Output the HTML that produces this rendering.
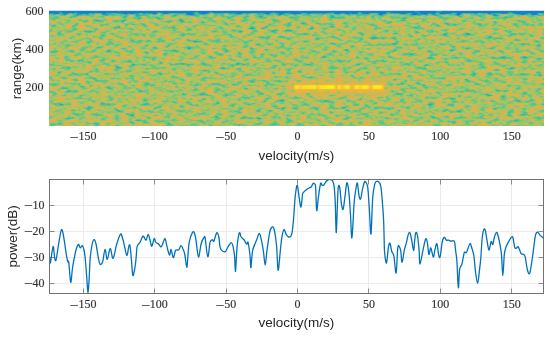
<!DOCTYPE html>
<html><head><meta charset="utf-8"><style>
html,body{margin:0;padding:0;background:#fff;width:550px;height:338px;overflow:hidden}
svg{display:block}
.s{font-family:'Liberation Serif',serif;font-size:12px;fill:#333;stroke:#333;stroke-width:0.15px}
.a{font-family:'Liberation Sans',sans-serif;font-size:13.5px;fill:#262626}
.mn{font-family:'DejaVu Serif',serif;stroke:none;fill:#555}
</style></head><body>
<svg width="550" height="338" viewBox="0 0 550 338">
<defs>
<filter id="hm" x="0" y="0" width="100%" height="100%" filterUnits="objectBoundingBox" color-interpolation-filters="sRGB">
<feTurbulence type="fractalNoise" baseFrequency="0.14 0.3" numOctaves="2" seed="7" result="n"/>
<feColorMatrix in="n" type="matrix" values="1 0 0 0 0 1 0 0 0 0 1 0 0 0 0 0 0 0 0 1" result="g"/>
<feComposite in="g" in2="SourceGraphic" operator="arithmetic" k1="0" k2="1" k3="1.5" k4="-0.75" result="c"/>
<feComponentTransfer in="c">
<feFuncR type="table" tableValues="0.092 0.098 0.110 0.136 0.162 0.190 0.224 0.257 0.290 0.324 0.357 0.390 0.424 0.475 0.532 0.590 0.646 0.703 0.757 0.788 0.819 0.848 0.855 0.862 0.869 0.876 0.884 0.894 0.903 0.913 0.923 0.943 0.968"/>
<feFuncG type="table" tableValues="0.494 0.526 0.561 0.600 0.639 0.673 0.696 0.719 0.742 0.757 0.766 0.774 0.782 0.782 0.780 0.777 0.768 0.756 0.744 0.731 0.718 0.706 0.702 0.699 0.695 0.692 0.692 0.695 0.698 0.702 0.705 0.746 0.805"/>
<feFuncB type="table" tableValues="0.820 0.808 0.787 0.746 0.704 0.666 0.637 0.608 0.578 0.556 0.539 0.523 0.506 0.480 0.451 0.423 0.396 0.369 0.344 0.336 0.329 0.321 0.316 0.311 0.305 0.300 0.291 0.280 0.269 0.258 0.247 0.211 0.165"/>
<feFuncA type="linear" slope="0" intercept="1"/>
</feComponentTransfer>
</filter>
<linearGradient id="halo" x1="0" y1="0" x2="0" y2="1">
<stop offset="0" stop-color="#808080"/><stop offset="0.3" stop-color="#999999"/><stop offset="0.7" stop-color="#999999"/><stop offset="1" stop-color="#808080"/>
</linearGradient>
<linearGradient id="haloh" x1="0" y1="0" x2="1" y2="0">
<stop offset="0" stop-color="#000"/><stop offset="0.07" stop-color="#fff"/><stop offset="0.93" stop-color="#fff"/><stop offset="1" stop-color="#000"/>
</linearGradient>
<mask id="halom" maskUnits="userSpaceOnUse" x="0" y="0" width="550" height="200"><rect x="286" y="74" width="106" height="26" fill="url(#haloh)"/></mask>
<linearGradient id="topg" gradientUnits="userSpaceOnUse" x1="0" y1="11" x2="0" y2="18.5">
<stop offset="0" stop-color="#080808"/>
<stop offset="0.18" stop-color="#141414"/>
<stop offset="0.27" stop-color="#333333"/>
<stop offset="0.42" stop-color="#4c4c4c"/>
<stop offset="0.55" stop-color="#666666"/>
<stop offset="0.78" stop-color="#787878"/>
<stop offset="1" stop-color="#808080"/>
</linearGradient>
<linearGradient id="lineh" gradientUnits="userSpaceOnUse" x1="294.0" y1="0" x2="385.0" y2="0">
<stop offset="0.0000" stop-color="#f2b440" stop-opacity="0.98"/>
<stop offset="0.0000" stop-color="#f3b73e" stop-opacity="1.00"/>
<stop offset="0.0000" stop-color="#f5be39" stop-opacity="1.00"/>
<stop offset="0.0143" stop-color="#fad728" stop-opacity="1.00"/>
<stop offset="0.0363" stop-color="#fae81b" stop-opacity="1.00"/>
<stop offset="0.0571" stop-color="#f9d42a" stop-opacity="1.00"/>
<stop offset="0.0769" stop-color="#f8c833" stop-opacity="1.00"/>
<stop offset="0.0934" stop-color="#fad926" stop-opacity="1.00"/>
<stop offset="0.1044" stop-color="#fadd24" stop-opacity="1.00"/>
<stop offset="0.1352" stop-color="#fae120" stop-opacity="1.00"/>
<stop offset="0.1648" stop-color="#fae41e" stop-opacity="1.00"/>
<stop offset="0.1890" stop-color="#fae51d" stop-opacity="1.00"/>
<stop offset="0.2077" stop-color="#fbeb19" stop-opacity="1.00"/>
<stop offset="0.2231" stop-color="#fbeb19" stop-opacity="1.00"/>
<stop offset="0.2374" stop-color="#fae51d" stop-opacity="1.00"/>
<stop offset="0.2495" stop-color="#f7c435" stop-opacity="1.00"/>
<stop offset="0.2670" stop-color="#f9d42a" stop-opacity="1.00"/>
<stop offset="0.2912" stop-color="#fbeb19" stop-opacity="1.00"/>
<stop offset="0.3099" stop-color="#fae81b" stop-opacity="1.00"/>
<stop offset="0.3275" stop-color="#fbe91b" stop-opacity="1.00"/>
<stop offset="0.3516" stop-color="#fbee17" stop-opacity="1.00"/>
<stop offset="0.3758" stop-color="#fbf115" stop-opacity="1.00"/>
<stop offset="0.4000" stop-color="#fbf214" stop-opacity="1.00"/>
<stop offset="0.4242" stop-color="#fbef16" stop-opacity="1.00"/>
<stop offset="0.4418" stop-color="#fae51d" stop-opacity="1.00"/>
<stop offset="0.4538" stop-color="#f9cb30" stop-opacity="1.00"/>
<stop offset="0.4637" stop-color="#f2b440" stop-opacity="0.96"/>
<stop offset="0.4736" stop-color="#f6c137" stop-opacity="1.00"/>
<stop offset="0.4857" stop-color="#fae41e" stop-opacity="1.00"/>
<stop offset="0.5033" stop-color="#fae41e" stop-opacity="1.00"/>
<stop offset="0.5220" stop-color="#f8ca31" stop-opacity="1.00"/>
<stop offset="0.5396" stop-color="#f7c534" stop-opacity="1.00"/>
<stop offset="0.5582" stop-color="#f9d42a" stop-opacity="1.00"/>
<stop offset="0.5758" stop-color="#fbe91b" stop-opacity="1.00"/>
<stop offset="0.5879" stop-color="#fbeb19" stop-opacity="1.00"/>
<stop offset="0.6055" stop-color="#fad926" stop-opacity="1.00"/>
<stop offset="0.6209" stop-color="#f5bf38" stop-opacity="1.00"/>
<stop offset="0.6363" stop-color="#f2b440" stop-opacity="0.75"/>
<stop offset="0.6604" stop-color="#f9cb30" stop-opacity="1.00"/>
<stop offset="0.6780" stop-color="#fae021" stop-opacity="1.00"/>
<stop offset="0.6967" stop-color="#fbec19" stop-opacity="1.00"/>
<stop offset="0.7143" stop-color="#fad728" stop-opacity="1.00"/>
<stop offset="0.7319" stop-color="#f9d22c" stop-opacity="1.00"/>
<stop offset="0.7505" stop-color="#fae021" stop-opacity="1.00"/>
<stop offset="0.7747" stop-color="#fbee17" stop-opacity="1.00"/>
<stop offset="0.7923" stop-color="#fbed18" stop-opacity="1.00"/>
<stop offset="0.8110" stop-color="#fae41e" stop-opacity="1.00"/>
<stop offset="0.8297" stop-color="#f6c236" stop-opacity="1.00"/>
<stop offset="0.8462" stop-color="#f2b440" stop-opacity="0.90"/>
<stop offset="0.8648" stop-color="#f9d42a" stop-opacity="1.00"/>
<stop offset="0.8890" stop-color="#fbeb19" stop-opacity="1.00"/>
<stop offset="0.9132" stop-color="#fbef16" stop-opacity="1.00"/>
<stop offset="0.9374" stop-color="#fbed18" stop-opacity="1.00"/>
<stop offset="0.9549" stop-color="#fae51d" stop-opacity="1.00"/>
<stop offset="0.9725" stop-color="#f9cb30" stop-opacity="1.00"/>
<stop offset="0.9846" stop-color="#f4ba3c" stop-opacity="1.00"/>
<stop offset="0.9901" stop-color="#f2b440" stop-opacity="0.78"/>
<stop offset="0.9956" stop-color="#f2b440" stop-opacity="0.19"/>
<stop offset="1.0000" stop-color="#f2b440" stop-opacity="0.00"/>
</linearGradient>
<linearGradient id="linev" gradientUnits="userSpaceOnUse" x1="0" y1="84.4" x2="0" y2="89.8">
<stop offset="0" stop-color="#000000"/>
<stop offset="0.28" stop-color="#ffffff"/>
<stop offset="0.72" stop-color="#ffffff"/>
<stop offset="1" stop-color="#000000"/>
</linearGradient>
<linearGradient id="lineg" gradientUnits="userSpaceOnUse" x1="294.0" y1="0" x2="385.0" y2="0">
<stop offset="0.0000" stop-color="#f4b43a" stop-opacity="0.98"/>
<stop offset="0.0000" stop-color="#f4b43a" stop-opacity="1.00"/>
<stop offset="0.0000" stop-color="#f4b43a" stop-opacity="1.00"/>
<stop offset="0.0143" stop-color="#f4b43a" stop-opacity="1.00"/>
<stop offset="0.0363" stop-color="#f4b43a" stop-opacity="1.00"/>
<stop offset="0.0571" stop-color="#f4b43a" stop-opacity="1.00"/>
<stop offset="0.0769" stop-color="#f4b43a" stop-opacity="1.00"/>
<stop offset="0.0934" stop-color="#f4b43a" stop-opacity="1.00"/>
<stop offset="0.1044" stop-color="#f4b43a" stop-opacity="1.00"/>
<stop offset="0.1352" stop-color="#f4b43a" stop-opacity="1.00"/>
<stop offset="0.1648" stop-color="#f4b43a" stop-opacity="1.00"/>
<stop offset="0.1890" stop-color="#f4b43a" stop-opacity="1.00"/>
<stop offset="0.2077" stop-color="#f4b43a" stop-opacity="1.00"/>
<stop offset="0.2231" stop-color="#f4b43a" stop-opacity="1.00"/>
<stop offset="0.2374" stop-color="#f4b43a" stop-opacity="1.00"/>
<stop offset="0.2495" stop-color="#f4b43a" stop-opacity="1.00"/>
<stop offset="0.2670" stop-color="#f4b43a" stop-opacity="1.00"/>
<stop offset="0.2912" stop-color="#f4b43a" stop-opacity="1.00"/>
<stop offset="0.3099" stop-color="#f4b43a" stop-opacity="1.00"/>
<stop offset="0.3275" stop-color="#f4b43a" stop-opacity="1.00"/>
<stop offset="0.3516" stop-color="#f4b43a" stop-opacity="1.00"/>
<stop offset="0.3758" stop-color="#f4b43a" stop-opacity="1.00"/>
<stop offset="0.4000" stop-color="#f4b43a" stop-opacity="1.00"/>
<stop offset="0.4242" stop-color="#f4b43a" stop-opacity="1.00"/>
<stop offset="0.4418" stop-color="#f4b43a" stop-opacity="1.00"/>
<stop offset="0.4538" stop-color="#f4b43a" stop-opacity="1.00"/>
<stop offset="0.4637" stop-color="#f4b43a" stop-opacity="0.96"/>
<stop offset="0.4736" stop-color="#f4b43a" stop-opacity="1.00"/>
<stop offset="0.4857" stop-color="#f4b43a" stop-opacity="1.00"/>
<stop offset="0.5033" stop-color="#f4b43a" stop-opacity="1.00"/>
<stop offset="0.5220" stop-color="#f4b43a" stop-opacity="1.00"/>
<stop offset="0.5396" stop-color="#f4b43a" stop-opacity="1.00"/>
<stop offset="0.5582" stop-color="#f4b43a" stop-opacity="1.00"/>
<stop offset="0.5758" stop-color="#f4b43a" stop-opacity="1.00"/>
<stop offset="0.5879" stop-color="#f4b43a" stop-opacity="1.00"/>
<stop offset="0.6055" stop-color="#f4b43a" stop-opacity="1.00"/>
<stop offset="0.6209" stop-color="#f4b43a" stop-opacity="1.00"/>
<stop offset="0.6363" stop-color="#f4b43a" stop-opacity="0.75"/>
<stop offset="0.6604" stop-color="#f4b43a" stop-opacity="1.00"/>
<stop offset="0.6780" stop-color="#f4b43a" stop-opacity="1.00"/>
<stop offset="0.6967" stop-color="#f4b43a" stop-opacity="1.00"/>
<stop offset="0.7143" stop-color="#f4b43a" stop-opacity="1.00"/>
<stop offset="0.7319" stop-color="#f4b43a" stop-opacity="1.00"/>
<stop offset="0.7505" stop-color="#f4b43a" stop-opacity="1.00"/>
<stop offset="0.7747" stop-color="#f4b43a" stop-opacity="1.00"/>
<stop offset="0.7923" stop-color="#f4b43a" stop-opacity="1.00"/>
<stop offset="0.8110" stop-color="#f4b43a" stop-opacity="1.00"/>
<stop offset="0.8297" stop-color="#f4b43a" stop-opacity="1.00"/>
<stop offset="0.8462" stop-color="#f4b43a" stop-opacity="0.90"/>
<stop offset="0.8648" stop-color="#f4b43a" stop-opacity="1.00"/>
<stop offset="0.8890" stop-color="#f4b43a" stop-opacity="1.00"/>
<stop offset="0.9132" stop-color="#f4b43a" stop-opacity="1.00"/>
<stop offset="0.9374" stop-color="#f4b43a" stop-opacity="1.00"/>
<stop offset="0.9549" stop-color="#f4b43a" stop-opacity="1.00"/>
<stop offset="0.9725" stop-color="#f4b43a" stop-opacity="1.00"/>
<stop offset="0.9846" stop-color="#f4b43a" stop-opacity="1.00"/>
<stop offset="0.9901" stop-color="#f4b43a" stop-opacity="0.78"/>
<stop offset="0.9956" stop-color="#f4b43a" stop-opacity="0.19"/>
<stop offset="1.0000" stop-color="#f4b43a" stop-opacity="0.00"/>
</linearGradient>
<linearGradient id="linegv" gradientUnits="userSpaceOnUse" x1="0" y1="82" x2="0" y2="93">
<stop offset="0" stop-color="#000000"/>
<stop offset="0.25" stop-color="#bfbfbf"/>
<stop offset="0.5" stop-color="#e6e6e6"/>
<stop offset="0.75" stop-color="#bfbfbf"/>
<stop offset="1" stop-color="#000000"/>
</linearGradient>
<mask id="lmg" maskUnits="userSpaceOnUse" x="0" y="0" width="550" height="200"><rect x="294.0" y="82" width="91.0" height="11" fill="url(#linegv)"/></mask>
<mask id="lm" maskUnits="userSpaceOnUse" x="0" y="0" width="550" height="200"><rect x="294.0" y="84.4" width="91.0" height="5.3999999999999915" fill="url(#linev)"/></mask>
<clipPath id="ax2"><rect x="49.5" y="179.5" width="494.0" height="114.0"/></clipPath>
</defs>
<g filter="url(#hm)">
<rect x="49" y="11" width="495" height="115" fill="#808080"/>
<rect x="49" y="11" width="495" height="7.5" fill="url(#topg)"/>
<rect x="286" y="74" width="106" height="26" fill="url(#halo)" mask="url(#halom)"/>
</g>
<rect x="49" y="10" width="495" height="1" fill="#1a78d4" opacity="0.25"/>
<rect x="294.0" y="82" width="91.0" height="11" fill="url(#lineg)" mask="url(#lmg)"/>
<rect x="294.0" y="84.4" width="91.0" height="5.3999999999999915" fill="url(#lineh)" mask="url(#lm)"/>

<text class="s" x="43.6" y="14.8" text-anchor="end">600</text>
<text class="s" x="43.6" y="52.8" text-anchor="end">400</text>
<text class="s" x="43.6" y="90.9" text-anchor="end">200</text>
<text class="s" x="82.7" y="140.4" text-anchor="middle"><tspan class="mn" dy="0.7">−</tspan><tspan dx="-0.7" dy="-0.7">150</tspan></text>
<text class="s" x="154.1" y="140.4" text-anchor="middle"><tspan class="mn" dy="0.7">−</tspan><tspan dx="-0.7" dy="-0.7">100</tspan></text>
<text class="s" x="225.5" y="140.4" text-anchor="middle"><tspan class="mn" dy="0.7">−</tspan><tspan dx="-0.7" dy="-0.7">50</tspan></text>
<text class="s" x="297.5" y="140.4" text-anchor="middle">0</text>
<text class="s" x="368.9" y="140.4" text-anchor="middle">50</text>
<text class="s" x="440.3" y="140.4" text-anchor="middle">100</text>
<text class="s" x="511.7" y="140.4" text-anchor="middle">150</text>
<text class="a" x="296.5" y="160" text-anchor="middle">velocity(m/s)</text>
<text class="a" transform="translate(20.8,68.4) rotate(-90)" text-anchor="middle">range(km)</text>
<path d="M83.5 179.5V293.5 M154.5 179.5V293.5 M226.5 179.5V293.5 M297.5 179.5V293.5 M368.5 179.5V293.5 M440.5 179.5V293.5 M511.5 179.5V293.5 M49.5 205.5H543.5 M49.5 231.5H543.5 M49.5 257.5H543.5 M49.5 283.5H543.5" stroke="#ebebeb" stroke-width="1" fill="none"/>
<path d="M83.5 179.5v5M83.5 293.5v-5 M154.5 179.5v5M154.5 293.5v-5 M226.5 179.5v5M226.5 293.5v-5 M297.5 179.5v5M297.5 293.5v-5 M368.5 179.5v5M368.5 293.5v-5 M440.5 179.5v5M440.5 293.5v-5 M511.5 179.5v5M511.5 293.5v-5 M49.5 205.5h5M543.5 205.5h-5 M49.5 231.5h5M543.5 231.5h-5 M49.5 257.5h5M543.5 257.5h-5 M49.5 283.5h5M543.5 283.5h-5" stroke="#8a8a8a" stroke-width="1" fill="none"/>
<path clip-path="url(#ax2)" d="M49.5 256.5C49.6 257.6 49.8 264.5 50.4 262.8C51.0 261.1 52.4 247.2 53.1 246.5C53.8 245.8 54.3 256.8 54.8 258.9C55.3 261.0 55.6 261.8 56.2 259.3C56.8 256.8 57.8 248.8 58.6 244.0C59.4 239.2 60.4 232.7 61.1 230.6C61.8 228.5 62.0 229.6 62.6 231.5C63.2 233.4 63.9 238.2 64.5 242.0C65.1 245.8 65.7 250.8 66.2 254.0C66.7 257.2 67.3 260.1 67.7 261.5C68.1 262.9 68.3 258.9 68.8 262.4C69.3 265.9 70.1 281.4 70.7 282.3C71.3 283.2 71.9 272.1 72.5 268.0C73.1 263.9 73.7 261.0 74.3 258.0C74.9 255.0 75.3 252.3 76.0 250.0C76.7 247.7 77.7 244.8 78.4 244.4C79.1 244.1 79.7 247.7 80.3 247.9C80.9 248.1 81.7 245.2 82.3 245.5C82.9 245.8 83.5 247.9 84.0 250.0C84.5 252.1 84.7 253.3 85.2 258.0C85.7 262.7 86.3 272.1 86.8 278.0C87.3 283.9 87.6 293.3 88.0 293.3C88.4 293.3 88.8 283.9 89.2 278.0C89.6 272.1 89.7 263.5 90.2 258.0C90.7 252.5 91.4 248.1 92.0 245.0C92.6 241.9 93.3 239.9 94.0 239.7C94.7 239.5 95.3 241.1 96.0 244.0C96.7 246.9 97.5 253.6 98.2 257.0C98.9 260.4 99.2 263.6 100.0 264.3C100.8 265.0 102.0 263.8 102.8 261.3C103.6 258.8 104.2 249.8 105.0 249.5C105.8 249.2 106.4 259.6 107.3 259.4C108.2 259.2 109.2 248.7 110.2 248.5C111.2 248.3 112.0 259.0 113.1 258.4C114.1 257.8 115.3 249.0 116.5 245.0C117.7 241.0 119.5 235.4 120.5 234.2C121.5 233.0 121.9 236.3 122.5 238.0C123.1 239.7 123.4 241.2 124.1 244.1C124.8 247.0 126.0 255.1 126.8 255.4C127.6 255.7 128.4 247.1 129.0 245.7C129.6 244.3 129.8 244.3 130.2 247.0C130.6 249.7 131.2 257.3 131.6 262.0C132.0 266.7 132.3 274.0 132.8 275.3C133.3 276.6 133.9 272.9 134.5 270.0C135.1 267.1 135.7 261.9 136.1 258.0C136.5 254.1 136.5 248.9 137.2 246.3C137.8 243.7 139.1 244.1 140.0 242.4C140.9 240.8 142.0 237.3 142.7 236.4C143.4 235.5 143.4 236.4 144.0 237.0C144.6 237.6 145.3 240.6 146.0 240.2C146.7 239.8 147.5 234.5 148.2 234.5C148.9 234.5 149.4 238.0 150.0 240.0C150.6 242.0 151.1 246.5 151.8 246.3C152.5 246.1 153.5 239.2 154.2 238.6C154.9 237.9 155.1 241.5 155.8 242.4C156.5 243.3 157.6 243.3 158.5 244.0C159.4 244.7 160.4 247.4 161.3 246.8C162.2 246.2 163.3 241.5 164.0 240.2C164.7 238.9 164.8 237.8 165.3 239.1C165.9 240.4 166.6 245.2 167.3 247.9C168.0 250.6 168.9 254.7 169.5 255.0C170.1 255.3 170.5 249.1 171.1 249.5C171.7 249.9 172.6 257.5 173.3 257.7C174.0 257.9 174.9 251.9 175.5 250.6C176.1 249.3 176.5 250.3 177.1 250.1C177.7 249.9 178.3 250.2 179.0 249.5C179.7 248.8 180.3 245.7 181.0 245.7C181.7 245.7 182.6 248.0 183.2 249.5C183.8 251.0 184.2 251.5 184.8 254.5C185.4 257.5 186.3 267.2 186.8 267.3C187.3 267.4 187.6 259.1 188.0 255.0C188.4 250.8 188.4 246.2 189.2 242.4C189.9 238.6 191.6 233.9 192.5 232.4C193.4 230.9 194.1 232.0 194.7 233.7C195.3 235.4 195.7 238.5 196.3 242.4C196.9 246.3 197.7 256.9 198.5 257.1C199.3 257.3 200.3 246.8 201.2 243.5C202.1 240.2 203.3 238.3 204.0 237.5C204.7 236.7 204.6 235.3 205.2 238.5C205.8 241.7 207.0 256.2 207.8 256.8C208.6 257.4 209.3 245.2 210.0 242.4C210.7 239.6 211.6 239.9 212.2 239.7C212.8 239.5 213.2 241.9 213.8 241.3C214.4 240.7 214.9 237.4 215.5 235.9C216.1 234.4 216.5 232.4 217.1 232.6C217.7 232.8 218.3 234.7 218.8 237.0C219.3 239.3 219.5 244.1 219.9 246.3C220.3 248.5 220.6 249.2 221.5 250.1C222.4 251.0 224.2 252.2 225.3 251.7C226.4 251.1 227.0 248.3 228.0 246.8C229.0 245.3 230.5 242.7 231.3 242.6C232.1 242.5 232.4 244.0 233.0 246.3C233.6 248.7 234.2 252.5 234.6 256.7C235.0 260.9 235.1 271.2 235.4 271.4C235.7 271.6 236.1 262.5 236.4 258.0C236.7 253.5 236.8 248.8 237.3 244.6C237.8 240.4 238.7 234.1 239.3 232.8C240.0 231.5 240.4 235.8 241.2 237.0C242.0 238.2 243.0 238.5 243.9 239.7C244.8 240.9 245.9 243.6 246.6 244.1C247.3 244.6 247.5 240.7 248.1 242.4C248.7 244.1 249.4 250.3 249.9 254.5C250.4 258.7 250.5 267.1 250.8 267.7C251.1 268.3 251.5 260.9 251.8 258.0C252.1 255.1 252.2 252.4 252.7 250.1C253.2 247.8 254.2 245.9 254.9 244.1C255.6 242.3 256.3 240.9 257.0 239.1C257.7 237.3 258.5 233.6 259.2 233.5C259.9 233.4 260.3 235.5 261.0 238.3C261.7 241.1 262.6 245.8 263.3 250.3C264.0 254.8 264.6 265.1 265.2 265.1C265.8 265.1 266.2 255.8 267.0 250.3C267.8 244.8 268.9 235.8 269.8 231.9C270.7 228.0 271.6 227.2 272.3 226.9C273.1 226.6 273.6 227.0 274.3 230.1C275.0 233.2 276.0 239.0 276.6 245.7C277.2 252.4 277.5 269.4 278.1 270.3C278.7 271.2 279.7 256.3 280.3 251.0C280.9 245.7 281.1 241.9 281.7 238.3C282.3 234.7 283.2 230.2 284.0 229.6C284.8 229.0 285.5 233.5 286.3 234.7C287.1 235.9 287.8 236.8 288.6 237.0C289.4 237.2 290.3 236.9 290.9 236.1C291.5 235.2 291.8 234.1 292.2 231.9C292.6 229.7 292.9 225.5 293.2 222.8C293.5 220.2 293.4 220.5 293.8 216.0C294.2 211.5 294.7 200.8 295.3 195.7C295.9 190.6 296.7 184.9 297.3 185.3C297.9 185.7 298.6 194.3 299.2 197.9C299.8 201.5 300.4 207.6 301.0 207.0C301.6 206.4 302.1 197.0 302.5 194.6C302.9 192.2 302.9 193.2 303.5 192.4C304.1 191.6 305.4 190.4 306.3 189.7C307.2 189.0 308.2 188.4 309.0 188.0C309.8 187.6 310.6 187.7 311.2 187.0C311.8 186.3 312.4 184.2 312.9 183.7C313.4 183.1 313.9 183.1 314.3 183.7C314.8 184.2 315.2 182.5 315.6 187.0C316.0 191.5 316.2 208.7 316.7 210.5C317.1 212.3 317.7 202.4 318.3 197.9C318.9 193.4 319.9 185.8 320.5 183.7C321.1 181.6 321.6 185.1 322.2 185.3C322.8 185.5 323.2 185.6 323.8 185.0C324.4 184.4 325.3 182.4 326.0 181.5C326.7 180.6 327.5 180.1 328.2 179.8C328.9 179.5 329.7 179.3 330.4 179.5C331.1 179.7 332.0 179.7 332.6 180.9C333.2 182.2 333.8 183.2 334.2 187.0C334.6 190.8 335.0 195.8 335.3 203.4C335.6 211.0 335.9 230.8 336.2 232.4C336.5 234.0 336.8 220.4 337.1 213.0C337.4 205.6 337.8 192.2 338.2 188.0C338.6 183.8 339.2 185.2 339.8 188.0C340.4 190.8 340.9 201.0 341.5 204.5C342.1 208.0 342.6 210.3 343.1 209.2C343.7 208.1 344.2 202.0 344.8 197.9C345.4 193.8 345.9 187.2 346.4 184.8C346.8 182.4 347.1 182.1 347.5 183.7C347.9 185.3 348.6 189.4 349.1 194.6C349.6 199.8 350.0 207.8 350.5 215.0C351.0 222.2 351.3 239.8 351.9 237.9C352.5 236.0 353.5 211.4 354.1 203.4C354.7 195.4 355.1 193.6 355.7 190.2C356.2 186.8 356.8 182.2 357.4 183.1C357.9 184.0 358.5 193.0 359.0 195.7C359.5 198.3 360.1 199.9 360.6 199.0C361.2 198.1 361.7 193.0 362.3 190.2C362.9 187.4 363.9 183.3 364.5 182.0C365.1 180.7 365.6 181.6 366.1 182.6C366.7 183.6 367.2 183.1 367.8 188.0C368.4 192.9 369.0 204.3 369.5 212.0C370.0 219.7 370.5 236.3 371.0 234.0C371.5 231.7 372.1 206.3 372.7 197.9C373.3 189.5 374.2 186.5 374.9 183.7C375.6 180.9 376.4 181.5 377.1 181.3C377.8 181.1 378.7 181.7 379.3 182.6C379.9 183.5 380.4 183.5 380.9 187.0C381.4 190.5 382.1 197.9 382.5 203.4C382.9 208.9 383.3 214.4 383.6 220.0C383.9 225.6 383.9 231.6 384.1 237.0C384.3 242.4 384.2 248.0 384.6 252.3C385.0 256.7 385.9 264.0 386.5 263.1C387.1 262.2 387.9 250.1 388.5 246.8C389.1 243.5 389.6 242.8 390.1 243.5C390.6 244.2 391.1 249.1 391.7 251.2C392.3 253.3 393.2 252.5 393.9 256.1C394.6 259.7 395.5 274.4 396.1 273.0C396.8 271.6 397.2 252.3 397.8 247.9C398.4 243.5 398.9 246.2 399.4 246.8C399.9 247.4 400.4 248.6 400.8 251.2C401.2 253.8 401.5 262.5 402.1 262.3C402.7 262.1 403.6 253.4 404.3 250.1C405.0 246.8 405.9 244.9 406.5 242.4C407.1 239.9 407.6 236.4 408.2 234.8C408.8 233.2 409.2 231.9 409.8 232.6C410.4 233.3 410.9 236.1 411.5 239.1C412.1 242.1 413.1 250.3 413.6 250.5C414.1 250.7 414.3 243.2 414.7 240.2C415.1 237.2 415.3 233.3 415.8 232.6C416.3 231.9 416.9 233.0 417.5 235.9C418.1 238.8 418.7 245.4 419.1 250.1C419.5 254.8 419.2 264.2 419.9 264.2C420.5 264.2 422.1 254.3 423.0 250.1C423.9 245.9 424.9 240.4 425.6 239.1C426.3 237.8 426.8 239.8 427.3 242.4C427.9 245.0 428.3 253.5 428.9 254.4C429.5 255.3 430.1 247.4 430.8 247.9C431.5 248.4 432.6 256.8 433.3 257.1C434.0 257.4 434.4 251.7 435.0 249.5C435.6 247.3 436.3 242.7 436.9 243.7C437.5 244.7 438.2 253.5 438.8 255.6C439.4 257.7 439.6 258.6 440.2 256.4C440.8 254.2 441.5 245.6 442.1 242.4C442.7 239.2 443.4 238.2 443.9 237.5C444.4 236.8 444.6 237.6 445.0 238.0C445.4 238.4 445.9 239.8 446.5 240.2C447.1 240.6 447.9 240.0 448.6 240.2C449.3 240.3 450.0 241.0 450.8 241.1C451.6 241.2 453.0 240.6 453.6 240.8C454.2 241.0 454.3 240.5 454.7 242.4C455.1 244.3 455.4 248.9 455.8 252.0C456.2 255.1 456.5 255.1 456.9 261.0C457.3 266.9 457.9 286.2 458.4 287.7C458.8 289.1 459.0 273.6 459.6 269.7C460.2 265.8 461.3 266.4 461.9 264.2C462.5 262.0 463.0 258.6 463.4 256.6C463.8 254.6 464.0 252.8 464.5 252.2C465.0 251.5 465.6 253.2 466.2 252.7C466.8 252.2 467.2 250.5 467.8 249.0C468.4 247.5 469.4 243.8 470.0 243.5C470.6 243.2 470.9 245.0 471.5 247.0C472.1 249.0 473.1 251.3 473.8 255.5C474.5 259.6 474.9 267.2 475.5 271.9C476.1 276.5 477.0 283.4 477.6 283.4C478.2 283.4 478.7 276.5 479.3 271.9C479.9 267.2 480.6 260.8 481.0 255.5C481.4 250.2 481.6 244.3 482.0 240.0C482.4 235.7 483.1 231.4 483.7 229.8C484.2 228.2 484.8 228.8 485.3 230.2C485.8 231.6 486.1 235.1 486.7 238.4C487.3 241.7 488.2 249.4 488.9 250.0C489.6 250.6 490.5 242.6 491.1 241.7C491.8 240.8 492.2 245.2 492.8 244.5C493.4 243.8 493.8 239.3 494.4 237.3C495.0 235.3 496.0 232.6 496.6 232.4C497.2 232.2 497.6 234.3 498.2 236.2C498.8 238.1 499.3 240.8 499.9 243.9C500.4 247.0 501.0 249.6 501.5 254.9C502.0 260.2 502.3 275.7 502.8 275.7C503.3 275.7 503.8 259.6 504.3 254.9C504.8 250.2 505.1 249.6 505.9 247.2C506.7 244.8 508.2 242.3 509.2 240.6C510.2 238.9 511.3 237.2 511.9 236.8C512.5 236.4 512.5 236.3 513.0 238.0C513.5 239.7 514.2 245.5 514.7 247.2C515.2 248.9 515.8 248.4 516.3 248.3C516.8 248.2 517.5 246.3 518.0 246.6C518.5 246.9 519.1 248.7 519.6 249.9C520.1 251.1 520.6 253.1 521.2 253.8C521.8 254.5 522.8 253.7 523.4 254.2C524.0 254.7 524.5 254.6 525.1 256.6C525.7 258.6 526.2 263.7 526.7 266.4C527.2 269.1 527.9 271.9 528.4 273.0C528.9 274.1 529.3 274.1 529.8 273.0C530.2 271.9 530.6 269.1 531.1 266.4C531.6 263.7 532.0 260.2 532.5 257.0C533.0 253.8 533.3 250.7 533.8 247.0C534.3 243.3 534.9 237.6 535.5 235.1C536.1 232.6 537.0 232.1 537.7 232.1C538.4 232.1 539.2 234.3 539.9 235.1C540.6 235.9 541.5 236.3 542.0 236.8C542.5 237.3 543.0 238.0 543.2 238.2" fill="none" stroke="#0072bd" stroke-width="1.3" stroke-linejoin="round"/>
<rect x="49.5" y="179.5" width="494.0" height="114.0" fill="none" stroke="#727272" stroke-width="1"/>
<text class="s" x="44.6" y="208.7" text-anchor="end"><tspan class="mn" dy="0.7">−</tspan><tspan dx="-0.7" dy="-0.7">10</tspan></text>
<text class="s" x="44.6" y="234.7" text-anchor="end"><tspan class="mn" dy="0.7">−</tspan><tspan dx="-0.7" dy="-0.7">20</tspan></text>
<text class="s" x="44.6" y="260.7" text-anchor="end"><tspan class="mn" dy="0.7">−</tspan><tspan dx="-0.7" dy="-0.7">30</tspan></text>
<text class="s" x="44.6" y="286.7" text-anchor="end"><tspan class="mn" dy="0.7">−</tspan><tspan dx="-0.7" dy="-0.7">40</tspan></text>
<text class="s" x="82.7" y="308.1" text-anchor="middle"><tspan class="mn" dy="0.7">−</tspan><tspan dx="-0.7" dy="-0.7">150</tspan></text>
<text class="s" x="154.1" y="308.1" text-anchor="middle"><tspan class="mn" dy="0.7">−</tspan><tspan dx="-0.7" dy="-0.7">100</tspan></text>
<text class="s" x="225.5" y="308.1" text-anchor="middle"><tspan class="mn" dy="0.7">−</tspan><tspan dx="-0.7" dy="-0.7">50</tspan></text>
<text class="s" x="297.5" y="308.1" text-anchor="middle">0</text>
<text class="s" x="368.9" y="308.1" text-anchor="middle">50</text>
<text class="s" x="440.3" y="308.1" text-anchor="middle">100</text>
<text class="s" x="511.7" y="308.1" text-anchor="middle">150</text>
<text class="a" x="296.5" y="327.1" text-anchor="middle">velocity(m/s)</text>
<text class="a" transform="translate(17,236.4) rotate(-90)" text-anchor="middle">power(dB)</text>
</svg>
</body></html>
